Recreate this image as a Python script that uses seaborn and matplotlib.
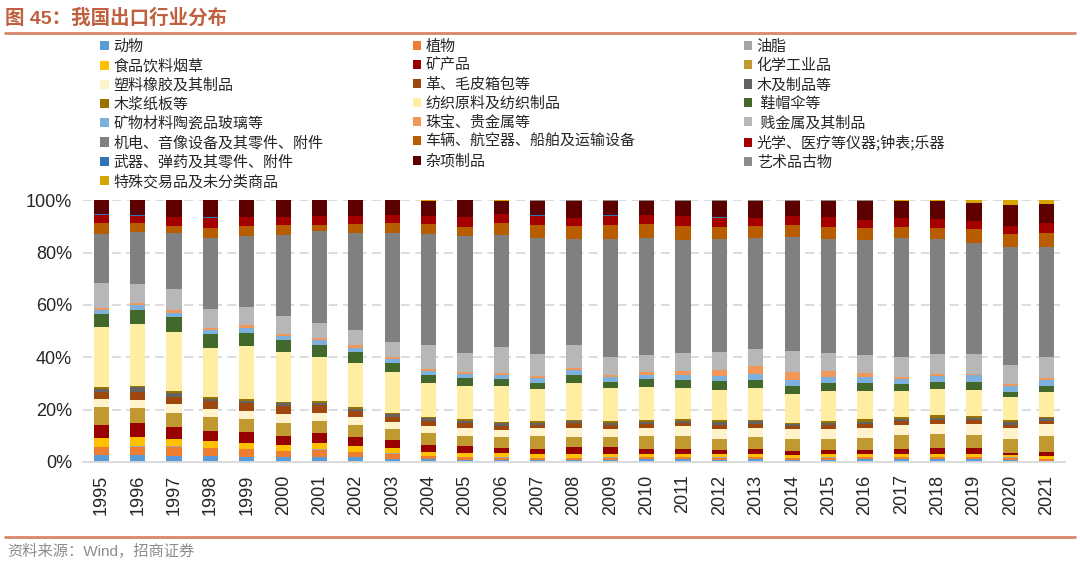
import numpy as np
import pandas as pd
import seaborn as sns
from matplotlib import pyplot as plt
from matplotlib.patches import Patch
from matplotlib.lines import Line2D

years = [str(y) for y in range(1995, 2022)]

# shares (%), bottom of the stack first
animals   = [2.7, 2.7, 2.3, 2.3, 2.0, 1.8, 2.0, 1.7, 1.3, 1.0, 0.8, 0.8, 0.8, 0.8, 0.8, 1.0, 1.0, 0.8, 1.0, 0.8, 0.8, 1.0, 1.0, 1.0, 1.0, 0.8, 0.5]
plants    = [2.9, 3.0, 3.4, 3.0, 2.8, 2.2, 2.6, 2.0, 1.8, 1.1, 1.0, 0.8, 0.7, 0.7, 0.8, 0.8, 0.8, 0.8, 0.8, 0.7, 0.8, 0.8, 0.8, 0.8, 0.8, 0.8, 0.7]
oils      = [0.2, 0.2, 0.2, 0.2, 0.2, 0.2, 0.2, 0.2, 0.2, 0.2, 0.2, 0.2, 0.1, 0.1, 0.1, 0.1, 0.1, 0.1, 0.1, 0.1, 0.1, 0.1, 0.1, 0.1, 0.1, 0.1, 0.1]
food      = [3.3, 3.5, 2.8, 2.6, 2.4, 2.3, 2.6, 2.2, 1.9, 1.6, 1.6, 1.5, 1.4, 1.4, 1.5, 1.3, 1.3, 1.3, 1.3, 1.2, 1.3, 1.3, 1.3, 1.3, 1.3, 0.9, 0.9]
minerals  = [5.0, 5.6, 4.5, 3.7, 3.9, 3.6, 3.5, 3.6, 3.2, 2.6, 2.5, 2.2, 2.1, 2.8, 2.6, 1.7, 1.9, 1.4, 1.7, 1.4, 1.5, 1.5, 1.8, 2.2, 2.2, 0.9, 1.6]
chemicals = [7.0, 5.5, 5.4, 5.2, 5.0, 4.9, 4.9, 4.4, 4.1, 4.4, 3.8, 3.9, 4.9, 3.8, 3.8, 4.9, 4.7, 4.5, 4.7, 4.7, 4.4, 4.6, 5.2, 5.3, 4.8, 5.1, 6.0]
plastics  = [2.8, 3.2, 3.4, 3.1, 3.2, 3.3, 3.0, 3.2, 2.9, 3.0, 2.9, 2.8, 3.0, 3.5, 3.1, 3.3, 3.8, 3.8, 3.5, 3.5, 3.6, 3.7, 4.1, 4.0, 4.2, 4.4, 4.6]
leather   = [2.8, 3.1, 2.9, 3.2, 2.9, 3.1, 3.0, 2.2, 1.9, 1.9, 2.0, 1.5, 1.0, 1.6, 1.3, 1.5, 1.3, 1.5, 1.5, 1.3, 1.5, 1.4, 1.4, 1.5, 1.6, 1.3, 1.3]
wood      = [1.3, 1.6, 1.6, 0.9, 1.0, 1.0, 0.9, 0.9, 1.0, 0.9, 1.0, 1.0, 1.0, 0.9, 0.9, 0.8, 0.7, 1.0, 0.9, 0.6, 0.9, 0.9, 0.6, 0.8, 0.6, 0.8, 0.9]
pulp      = [0.7, 0.6, 0.7, 0.7, 0.6, 0.6, 0.6, 0.7, 0.5, 0.6, 0.6, 0.7, 0.6, 0.6, 0.8, 0.7, 0.8, 0.7, 0.7, 0.7, 0.6, 1.0, 0.9, 0.8, 1.0, 0.9, 0.6]
textiles  = [22.9, 23.7, 22.5, 18.7, 20.3, 18.9, 16.9, 16.9, 15.7, 13.0, 12.6, 13.6, 12.5, 14.0, 12.6, 12.7, 12.0, 11.7, 12.2, 11.1, 11.6, 10.8, 9.9, 10.2, 10.0, 8.7, 9.5]
footwear  = [5.1, 5.3, 5.5, 5.1, 5.1, 4.9, 4.7, 4.1, 3.2, 2.9, 3.1, 2.6, 2.3, 3.1, 2.5, 2.7, 3.1, 3.2, 3.1, 2.8, 3.1, 3.1, 2.8, 2.6, 3.0, 2.1, 2.2]
stone     = [1.5, 1.7, 1.8, 1.7, 1.9, 1.4, 1.7, 1.6, 1.5, 1.6, 1.5, 1.8, 1.9, 1.9, 1.7, 1.9, 1.6, 2.1, 2.2, 2.3, 2.3, 2.3, 1.9, 2.3, 2.5, 2.3, 2.3]
jewelry   = [0.8, 0.9, 1.0, 0.9, 1.0, 0.9, 0.9, 1.0, 0.8, 0.7, 0.9, 0.7, 0.5, 0.7, 0.8, 0.9, 1.6, 2.2, 2.8, 3.0, 2.3, 1.5, 0.9, 0.8, 0.6, 0.9, 0.9]
metals    = [9.4, 7.1, 7.9, 7.0, 7.0, 6.8, 5.7, 5.9, 5.7, 9.4, 7.0, 9.9, 8.7, 8.9, 7.0, 6.7, 7.1, 6.7, 6.8, 8.2, 7.0, 7.0, 7.4, 7.7, 7.4, 7.1, 8.0]
machinery = [18.9, 20.1, 21.4, 27.2, 27.3, 31.0, 35.0, 37.1, 42.0, 42.4, 44.8, 42.9, 44.3, 40.5, 45.2, 44.4, 43.1, 43.3, 42.4, 43.6, 43.5, 43.9, 45.8, 44.1, 42.5, 45.1, 41.9]
vehicles  = [4.2, 3.4, 2.9, 3.8, 3.6, 3.6, 2.6, 3.4, 3.6, 3.8, 3.5, 4.4, 4.9, 4.8, 5.3, 5.7, 5.5, 4.4, 4.4, 4.5, 4.4, 4.4, 4.2, 4.2, 5.4, 4.9, 5.5]
optical   = [2.8, 2.7, 3.4, 4.0, 3.4, 3.1, 3.1, 2.8, 3.0, 2.9, 3.8, 3.4, 3.6, 3.1, 3.6, 3.2, 3.5, 3.8, 3.2, 3.5, 3.8, 3.3, 3.2, 3.2, 3.0, 3.2, 3.6]
arms      = [0.4, 0.2, 0.05, 0.05, 0.05, 0.05, 0.05, 0.05, 0.05, 0.05, 0.05, 0.05, 0.05, 0.05, 0.05, 0.05, 0.05, 0.05, 0.05, 0.05, 0.05, 0.05, 0.05, 0.05, 0.05, 0.05, 0.05]
misc      = [5.3, 5.7, 6.3, 6.5, 6.4, 6.4, 6.1, 6.1, 5.7, 5.8, 6.4, 5.1, 5.7, 6.7, 5.7, 5.5, 6.0, 6.4, 6.6, 5.7, 6.4, 7.3, 6.6, 7.0, 7.0, 8.0, 7.4]
art       = [0.05] * 27
special   = [0, 0, 0, 0, 0, 0, 0, 0, 0, 0.2, 0, 0.2, 0.1, 0.1, 0.1, 0.1, 0.1, 0.1, 0.1, 0.1, 0.1, 0.1, 0.2, 0.2, 0.9, 1.8, 1.3]

names = ['动物', '植物', '油脂', '食品饮料烟草', '矿产品', '化学工业品', '塑料橡胶及其制品',
         '革、毛皮箱包等', '木及制品等', '木浆纸板等', '纺织原料及纺织制品', ' 鞋帽伞等',
         '矿物材料陶瓷品玻璃等', '珠宝、贵金属等', ' 贱金属及其制品', '机电、音像设备及其零件、附件',
         '车辆、航空器、船舶及运输设备', '光学、医疗等仪器;钟表;乐器', '武器、弹药及其零件、附件',
         '杂项制品', '艺术品古物', '特殊交易品及未分类商品']
series = [animals, plants, oils, food, minerals, chemicals, plastics, leather, wood, pulp,
          textiles, footwear, stone, jewelry, metals, machinery, vehicles, optical, arms,
          misc, art, special]
colors = ['#5B9BD5', '#ED7D31', '#A5A5A5', '#FFC000', '#990000', '#C09A30', '#FFF3CC',
          '#9E480E', '#636363', '#997300', '#FFEEA1', '#43682B', '#7EB0DE', '#F1975A',
          '#B7B7B7', '#808080', '#B85C00', '#A50000', '#2E75B6', '#5C0000', '#8C8C8C', '#D6A500']

df = pd.DataFrame(dict(zip(names, series)), index=years)
df = df.div(df.sum(axis=1), axis=0) * 100
cum = df.cumsum(axis=1)

sns.set_theme(style='white')
plt.rcParams['font.family'] = ['Liberation Sans', 'Noto Sans CJK SC', 'DejaVu Sans']

fig = plt.figure(figsize=(10.8, 5.64), dpi=100)
ax = fig.add_axes([0.077, 0.181, 0.909, 0.464])

# layered cumulative bars, tallest first
for k in reversed(range(len(names))):
    sns.barplot(x=years, y=cum.iloc[:, k].values, color=colors[k], width=0.42,
                saturation=1, linewidth=0, ax=ax)

ax.set_xlim(-0.5, len(years) - 0.5)
ax.set_ylim(0, 100)
ax.set_yticks([0, 20, 40, 60, 80, 100])
ax.set_yticklabels([f'{v}%' for v in range(0, 101, 20)], fontsize=13)
ax.tick_params(axis='x', rotation=90, labelsize=13, length=0, pad=9)
ax.tick_params(axis='y', length=0, pad=8)
ax.set_xlabel('')
ax.set_ylabel('')
ax.yaxis.grid(True, linestyle=(0, (5, 3)), color='#D9D9D9', linewidth=1.3)
ax.set_axisbelow(True)
for s in ['top', 'right', 'left']:
    ax.spines[s].set_visible(False)
ax.spines['bottom'].set_color('#D9D9D9')
ax.spines['bottom'].set_linewidth(1.3)

# legend in three columns, filled row by row
cols_x = [0.093, 0.382, 0.689]
for c in range(3):
    idx = list(range(c, len(names), 3))
    handles = [Patch(facecolor=colors[i], edgecolor='none') for i in idx]
    fig.legend(handles, [names[i] for i in idx], loc='upper left',
               bbox_to_anchor=(cols_x[c], 0.929), frameon=False,
               prop={'family': 'Noto Sans CJK SC', 'size': 10.8},
               handlelength=0.55, handleheight=0.55, handletextpad=0.3,
               labelspacing=0.32, borderpad=0, borderaxespad=0)

title_color = '#C0603E'
fig.text(0.005, 0.968, '图 45：我国出口行业分布', color=title_color, fontsize=14,
         fontweight='bold', va='center', ha='left')
fig.add_artist(Line2D([0.005, 0.995], [0.941, 0.941], color='#D9866A', linewidth=2))
fig.add_artist(Line2D([0.005, 0.995], [0.048, 0.048], color='#D9866A', linewidth=2))
fig.text(0.007, 0.022, '资料来源：Wind，招商证券', color='#8C8C8C', fontsize=11,
         va='center', ha='left')

fig.savefig('out.png', dpi=100)
